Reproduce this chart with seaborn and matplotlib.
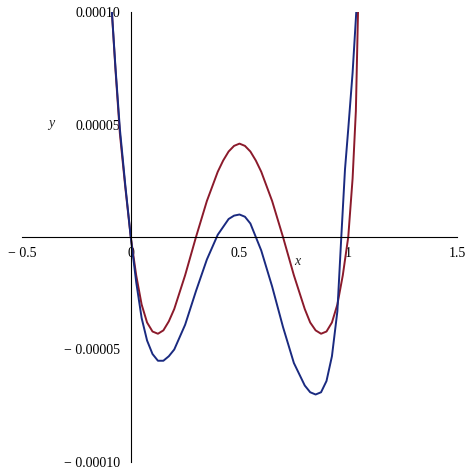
import matplotlib
matplotlib.use("Agg")
import matplotlib.pyplot as plt
import seaborn as sns
import pandas as pd

red_x = [-0.09,-0.07,-0.05,-0.025,0,0.025,0.05,0.075,0.1,0.125,0.15,0.175,0.2,0.25,0.3,0.35,0.4,0.425,0.45,0.475,0.5,0.525,0.55,0.575,0.6,0.65,0.7,0.75,0.8,0.825,0.85,0.875,0.9,0.925,0.95,0.975,1.0,1.02,1.035,1.046]
red_y = [10.5,7.4,4.6,2.2,0,-1.7,-3.0,-3.8,-4.2,-4.3,-4.15,-3.75,-3.2,-1.7,0,1.6,2.9,3.4,3.8,4.05,4.15,4.05,3.8,3.4,2.9,1.6,0,-1.7,-3.2,-3.8,-4.15,-4.3,-4.2,-3.8,-3.0,-1.7,0,2.6,5.6,10.5]
blue_x = [-0.09,-0.07,-0.05,-0.025,0,0.025,0.05,0.075,0.1,0.125,0.15,0.175,0.2,0.25,0.3,0.35,0.4,0.45,0.475,0.5,0.525,0.55,0.6,0.65,0.7,0.75,0.8,0.825,0.85,0.875,0.9,0.925,0.95,0.968,0.985,1.0,1.02,1.04]
blue_y = [10.5,7.5,4.8,2.3,0,-2.0,-3.6,-4.6,-5.2,-5.5,-5.5,-5.3,-5.0,-3.9,-2.4,-1.0,0.1,0.8,0.95,1.0,0.9,0.6,-0.6,-2.2,-4.0,-5.6,-6.6,-6.9,-7.0,-6.9,-6.4,-5.3,-3.3,0,3.0,4.8,7.3,10.5]

df_r = pd.DataFrame({"x": red_x, "y": [v*1e-5 for v in red_y]})
df_b = pd.DataFrame({"x": blue_x, "y": [v*1e-5 for v in blue_y]})

sns.set_style("white")
plt.rcParams['font.family'] = ['Liberation Serif', 'DejaVu Serif']
fig = plt.figure(figsize=(4.74, 4.74), dpi=100)
ax = fig.add_axes([22/474, 12/474, 435/474, 450/474])
sns.lineplot(data=df_r, x="x", y="y", sort=False, color="#8b1a2b", lw=1.4, ax=ax)
sns.lineplot(data=df_b, x="x", y="y", sort=False, color="#1a2a80", lw=1.4, ax=ax)
ax.set_xlim(-0.5, 1.5)
ax.set_ylim(-0.0001, 0.0001)
for s in ["top", "right"]:
    ax.spines[s].set_visible(False)
ax.spines["left"].set_position(("data", 0))
ax.spines["bottom"].set_position(("data", 0))
for s in ["left", "bottom"]:
    ax.spines[s].set_color("black"); ax.spines[s].set_linewidth(0.8)
ax.set_xticks([-0.5, 0, 0.5, 1, 1.5])
ax.set_xticklabels(["− 0.5", "0", "0.5", "1", "1.5"], fontsize=10)
ax.set_yticks([-0.0001, -0.00005, 0.00005, 0.0001])
ax.set_yticklabels(["− 0.00010", "− 0.00005", "0.00005", "0.00010"], fontsize=10)
ax.tick_params(direction="out", length=4, width=0.8, colors="black")
ax.set_xlabel(""); ax.set_ylabel("")
ax.text(0.75, -0.0000125, "x", style="italic", fontsize=10)
ax.text(-0.38, 0.000049, "y", style="italic", fontsize=10)
fig.savefig("out.png", dpi=100)
